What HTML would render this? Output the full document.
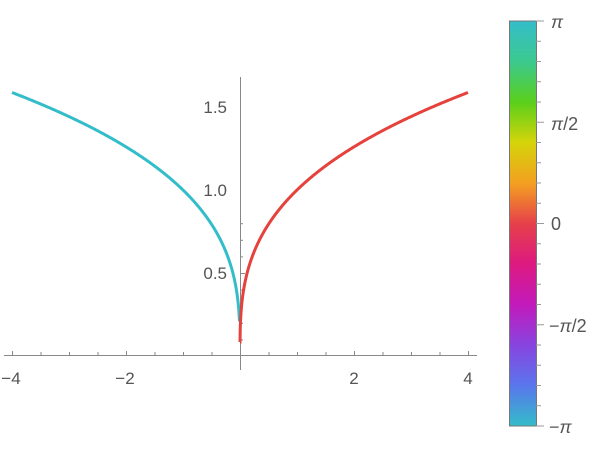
<!DOCTYPE html>
<html><head><meta charset="utf-8"><style>
body{margin:0;background:#fff}
svg text{font-family:"Liberation Sans",sans-serif;font-size:17px;fill:#555}
svg text.c{font-size:18px}
</style></head><body>
<svg width="606" height="466" viewBox="0 0 606 466" xmlns="http://www.w3.org/2000/svg">
<defs>
<linearGradient id="g" x1="0" y1="0" x2="0" y2="1">
<stop offset="0" stop-color="#33bdc9"/>
<stop offset="0.1" stop-color="#3cc98f"/>
<stop offset="0.2" stop-color="#5ad01c"/>
<stop offset="0.3" stop-color="#d5d40a"/>
<stop offset="0.4" stop-color="#f3a020"/>
<stop offset="0.5" stop-color="#e6404a"/>
<stop offset="0.6" stop-color="#dd1a80"/>
<stop offset="0.7" stop-color="#c21abb"/>
<stop offset="0.8" stop-color="#8844e0"/>
<stop offset="0.9" stop-color="#5a76ec"/>
<stop offset="1" stop-color="#33bdc9"/>
</linearGradient>
</defs>
<g stroke="#888" stroke-width="1" fill="none">
<line x1="4" y1="355.5" x2="477" y2="355.5"/>
<line x1="240.5" y1="77" x2="240.5" y2="370"/>
<g id="xt"></g><g id="yt"></g>
</g>
<path id="cy" fill="none" stroke="#33bdc9" stroke-width="3"/>
<path id="rd" fill="none" stroke="#e5413d" stroke-width="3"/>
<text x="11" y="384" text-anchor="middle">−4</text>
<text x="125" y="384" text-anchor="middle">−2</text>
<text x="354" y="384" text-anchor="middle">2</text>
<text x="468" y="384" text-anchor="middle">4</text>
<text x="227" y="113" text-anchor="end">1.5</text>
<text x="227" y="196" text-anchor="end">1.0</text>
<text x="227" y="279" text-anchor="end">0.5</text>
<rect x="509.5" y="21" width="27" height="405" fill="url(#g)" stroke="#777" stroke-width="1"/>
<g id="ct" stroke="#999"></g>
<text class="c" x="551" y="28"><tspan font-style="italic">π</tspan></text>
<text class="c" x="551" y="130"><tspan font-style="italic">π</tspan>/2</text>
<text class="c" x="551" y="230">0</text>
<text class="c" x="549" y="332">−<tspan font-style="italic">π</tspan>/2</text>
<text class="c" x="549" y="433">−<tspan font-style="italic">π</tspan></text>
</svg>
<script>
var X0=240,Y0=356,sx=57,sy=166,r="",c="";
for(var i=0;i<=400;i++){var t=i/400;var x=4*t*t*t;var y=Y0-sy*Math.cbrt(x);
var y1=Math.min(y,342);r+=(i?"L":"M")+(X0+sx*x).toFixed(2)+" "+y1.toFixed(2);
var y2=Math.min(y,320);c+=(i?"L":"M")+(X0-sx*x).toFixed(2)+" "+y2.toFixed(2);}
document.getElementById("rd").setAttribute("d",r);
document.getElementById("cy").setAttribute("d",c);
var ns="http://www.w3.org/2000/svg";
function ln(g,a,b,c2,d){var l=document.createElementNS(ns,"line");l.setAttribute("x1",a);l.setAttribute("y1",b);l.setAttribute("x2",c2);l.setAttribute("y2",d);document.getElementById(g).appendChild(l);}
for(var k=-8;k<=8;k++){if(!k)continue;var px=X0+k*sx/2+0.5;ln("xt",px,355,px,k%4==0?351:352);}
for(var k=1;k<=8;k++){var py=Y0-k*sy/10+0.5;ln("yt",240,py,k%5==0?245:243,py);}
for(var k=0;k<=20;k++){var py=21+k*405/20;ln("ct",536,py,k%5==0?544:541,py);}
</script>
</body></html>
